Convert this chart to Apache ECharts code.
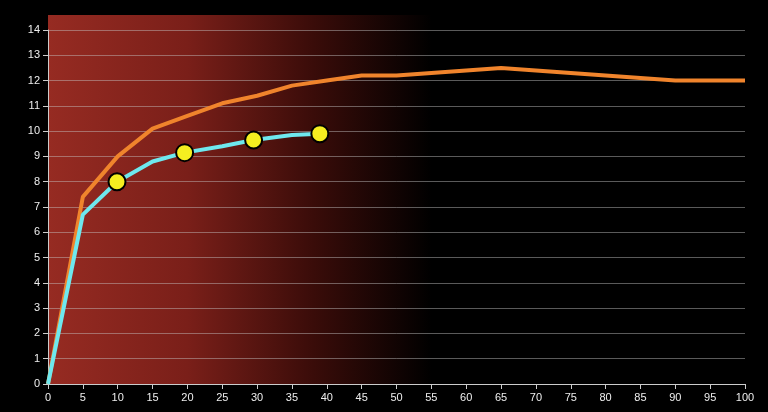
<!DOCTYPE html><html><head><meta charset="utf-8"><script src="https://cdn.jsdelivr.net/npm/echarts@6/dist/echarts.min.js"></script>
<style>html,body{margin:0;background:#000}#c{width:768px;height:412px}</style></head><body><div id="c"></div><script>
const xTicks=[0,5,10,15,20,25,30,35,40,45,50,55,60,65,70,75,80,85,90,95,100];
const orangeX=[0,5,10,15,20,25,30,35,40,45,50,55,60,65,70,75,80,85,90,95,100];
const orangeY=[0,7.4,9,10.1,10.6,11.1,11.4,11.8,12,12.2,12.2,12.3,12.4,12.5,12.4,12.3,12.2,12.1,12,12,12];
const cyanX=[0,5,9.9,15,19.6,25,29.5,35,39];
const cyanY=[0,6.7,8,8.8,9.15,9.4,9.65,9.85,9.9];
const markerIdx=[2,4,6,8];
const ch=echarts.init(document.getElementById('c'));
ch.setOption({backgroundColor:'#000',animation:false,
graphic:[{type:'rect',silent:true,z:-10,shape:{x:48,y:15,width:697,height:369},style:{fill:new echarts.graphic.LinearGradient(0,0,1,0,[{offset:0,color:'#962b22'},{offset:0.2,color:'#7a1f19'},{offset:0.38,color:'#3a0c09'},{offset:0.55,color:'#000'},{offset:1,color:'#000'}])}}],
grid:{left:48,right:23,top:30,bottom:28},
xAxis:{type:'value',min:0,max:100,interval:5,axisLine:{lineStyle:{color:'#ccc'}},axisTick:{show:true,lineStyle:{color:'#ccc'}},splitLine:{show:false},axisLabel:{color:'#eee',fontSize:11}},
yAxis:{type:'value',min:0,max:14,interval:1,axisLine:{show:true,lineStyle:{color:'#ccc'}},axisTick:{show:true,lineStyle:{color:'#ccc'}},splitLine:{lineStyle:{color:'rgba(200,200,200,0.45)'}},axisLabel:{color:'#eee',fontSize:11}},
series:[
{type:'line',data:orangeX.map((x,i)=>[x,orangeY[i]]),showSymbol:false,lineStyle:{color:'#f0842c',width:4},itemStyle:{color:'#f0842c'}},
{type:'line',data:cyanX.map((x,i)=>[x,cyanY[i]]),symbol:'circle',symbolSize:(v,p)=>markerIdx.includes(p.dataIndex)?17:0,lineStyle:{color:'#6ee8ee',width:4},itemStyle:{color:'#f5ee20',borderColor:'#000',borderWidth:2}}
]});
</script></body></html>
